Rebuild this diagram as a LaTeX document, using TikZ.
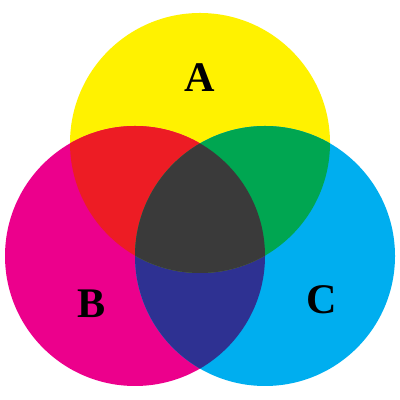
\documentclass[tikz,border=0pt]{standalone}
\usepackage{fontspec}
\setmainfont{Liberation Serif}
\definecolor{colA}{HTML}{FFF200}
\definecolor{colB}{HTML}{EC008C}
\definecolor{colC}{HTML}{00AEEF}
\definecolor{colAB}{HTML}{ED1C24}
\definecolor{colAC}{HTML}{00A651}
\definecolor{colBC}{HTML}{2E3192}
\definecolor{colABC}{HTML}{3A3A3A}
\tikzset{lbl/.style={font=\fontsize{30}{34}\selectfont\bfseries}}
\begin{document}
\begin{tikzpicture}
	\useasboundingbox (0,0) rectangle (10,10);
	\coordinate (A) at (5,6.425);
	\coordinate (B) at (3.375,3.6);
	\coordinate (C) at (6.625,3.6);
	%circles
	\fill[colA] (A) circle (3.25);
	\fill[colB] (B) circle (3.25);
	\fill[colC] (C) circle (3.25);
	%B and C
	\begin{scope}
		\clip (B) circle (3.25);
		\fill[colBC] (C) circle (3.25);
	\end{scope}
	%A with B, A with C
	\begin{scope}
		\clip (A) circle (3.25);
		\fill[colAB] (B) circle (3.25);
		\fill[colAC] (C) circle (3.25);
		\clip (B) circle (3.25);
		\fill[colABC] (C) circle (3.25);
	\end{scope}
	%labels
	\node[lbl] (labA) at (5,8.07) {A};
	\node[lbl] (labB) at (2.3,2.4) {B};
	\node[lbl] (labC) at (8.05,2.5) {C};
\end{tikzpicture}
\end{document}
